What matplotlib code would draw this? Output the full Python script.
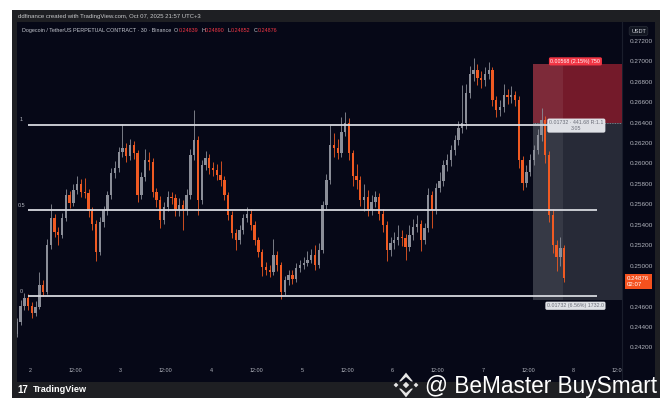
import numpy as np
import matplotlib
matplotlib.use("Agg")
import matplotlib.pyplot as plt
from matplotlib.patches import Rectangle, Polygon
import matplotlib.transforms as mtransforms

plt.rcParams['font.family'] = ['Liberation Sans', 'DejaVu Sans']

# ---------------- data ----------------
first_open = 0.2433
closes = [
    0.2445, 0.2461, 0.2468, 0.2461, 0.2454, 0.2460, 0.2481, 0.2474, 0.2520, 0.2547,
    0.2533, 0.2530, 0.2547, 0.2569, 0.2561, 0.2574, 0.2580, 0.2572, 0.2571, 0.2553,
    0.2541, 0.2513, 0.2543, 0.2554, 0.2569, 0.2591, 0.2596, 0.2611, 0.2615, 0.2607,
    0.2618, 0.2610, 0.2569, 0.2587, 0.2603, 0.2601, 0.2572, 0.2564, 0.2545, 0.2557,
    0.2567, 0.2566, 0.2554, 0.2559, 0.2554, 0.2569, 0.2608, 0.2623, 0.2564, 0.2598,
    0.2605, 0.2596, 0.2594, 0.2589, 0.2584, 0.2569, 0.2550, 0.2532, 0.2525, 0.2535,
    0.2547, 0.2551, 0.2540, 0.2525, 0.2513, 0.2499, 0.2496, 0.2494, 0.2510, 0.2501,
    0.2474, 0.2486, 0.2491, 0.2487, 0.2498, 0.2501, 0.2503, 0.2506, 0.2510, 0.2501,
    0.2515, 0.2559, 0.2584, 0.2618, 0.2615, 0.2610, 0.2631, 0.2640, 0.2610, 0.2588,
    0.2584, 0.2564, 0.2567, 0.2554, 0.2562, 0.2567, 0.2551, 0.2540, 0.2515, 0.2522,
    0.2525, 0.2528, 0.2527, 0.2518, 0.2530, 0.2538, 0.2541, 0.2525, 0.2537, 0.2569,
    0.2554, 0.2576, 0.2583, 0.2598, 0.2603, 0.2613, 0.2623, 0.2635, 0.2640, 0.2669,
    0.2687, 0.2691, 0.2684, 0.2682, 0.2687, 0.2691, 0.2662, 0.2652, 0.2655, 0.2667,
    0.2665, 0.2667, 0.2662, 0.2603, 0.2581, 0.2592, 0.2603, 0.2613, 0.2628, 0.2642,
    0.2608, 0.2550, 0.2520, 0.2508, 0.2517, 0.2488]
highs = [
    0.2449, 0.2466, 0.2473, 0.2472, 0.2464, 0.2465, 0.2494, 0.2486, 0.2526, 0.2560,
    0.2551, 0.2538, 0.2552, 0.2575, 0.2573, 0.2580, 0.2588, 0.2585, 0.2586, 0.2575,
    0.2557, 0.2545, 0.2548, 0.2558, 0.2573, 0.2596, 0.2602, 0.2616, 0.2639, 0.2620,
    0.2624, 0.2622, 0.2613, 0.2592, 0.2614, 0.2611, 0.2605, 0.2576, 0.2568, 0.2562,
    0.2573, 0.2572, 0.2570, 0.2566, 0.2564, 0.2575, 0.2614, 0.2652, 0.2627, 0.2603,
    0.2612, 0.2609, 0.2601, 0.2599, 0.2602, 0.2588, 0.2572, 0.2553, 0.2536, 0.2540,
    0.2551, 0.2557, 0.2555, 0.2544, 0.2528, 0.2516, 0.2504, 0.2501, 0.2526, 0.2514,
    0.2504, 0.2490, 0.2496, 0.2496, 0.2503, 0.2506, 0.2508, 0.2514, 0.2516, 0.2520,
    0.2522, 0.2563, 0.2590, 0.2638, 0.2630, 0.2624, 0.2645, 0.2650, 0.2644, 0.2613,
    0.2599, 0.2588, 0.2580, 0.2574, 0.2569, 0.2573, 0.2571, 0.2555, 0.2544, 0.2528,
    0.2533, 0.2540, 0.2535, 0.2531, 0.2540, 0.2546, 0.2550, 0.2545, 0.2542, 0.2576,
    0.2573, 0.2581, 0.2592, 0.2603, 0.2609, 0.2618, 0.2628, 0.2641, 0.2677, 0.2678,
    0.2695, 0.2703, 0.2697, 0.2690, 0.2694, 0.2699, 0.2694, 0.2666, 0.2662, 0.2678,
    0.2673, 0.2676, 0.2671, 0.2666, 0.2607, 0.2598, 0.2609, 0.2618, 0.2634, 0.2654,
    0.2646, 0.2612, 0.2555, 0.2525, 0.2528, 0.2520]
lows = [
    0.2430, 0.2442, 0.2457, 0.2457, 0.2449, 0.2451, 0.2458, 0.2470, 0.2472, 0.2516,
    0.2528, 0.2520, 0.2527, 0.2544, 0.2556, 0.2558, 0.2570, 0.2567, 0.2566, 0.2548,
    0.2535, 0.2505, 0.2510, 0.2538, 0.2550, 0.2565, 0.2586, 0.2592, 0.2606, 0.2601,
    0.2603, 0.2604, 0.2562, 0.2565, 0.2583, 0.2594, 0.2567, 0.2557, 0.2537, 0.2541,
    0.2553, 0.2560, 0.2549, 0.2549, 0.2535, 0.2550, 0.2565, 0.2603, 0.2550, 0.2560,
    0.2594, 0.2590, 0.2588, 0.2584, 0.2578, 0.2564, 0.2545, 0.2527, 0.2515, 0.2521,
    0.2531, 0.2543, 0.2535, 0.2520, 0.2508, 0.2490, 0.2491, 0.2489, 0.2491, 0.2495,
    0.2467, 0.2471, 0.2481, 0.2482, 0.2484, 0.2494, 0.2497, 0.2500, 0.2503, 0.2496,
    0.2498, 0.2512, 0.2555, 0.2580, 0.2606, 0.2604, 0.2606, 0.2627, 0.2603, 0.2578,
    0.2575, 0.2558, 0.2553, 0.2549, 0.2550, 0.2557, 0.2545, 0.2533, 0.2505, 0.2509,
    0.2516, 0.2520, 0.2519, 0.2506, 0.2514, 0.2525, 0.2533, 0.2514, 0.2521, 0.2533,
    0.2537, 0.2551, 0.2572, 0.2578, 0.2593, 0.2597, 0.2608, 0.2618, 0.2630, 0.2634,
    0.2664, 0.2681, 0.2677, 0.2674, 0.2676, 0.2683, 0.2656, 0.2645, 0.2646, 0.2650,
    0.2658, 0.2659, 0.2656, 0.2596, 0.2574, 0.2577, 0.2588, 0.2598, 0.2609, 0.2622,
    0.2600, 0.2543, 0.2512, 0.2495, 0.2500, 0.2484]

first_candle_day = 1 + 20.5 / 24     # day 2 = Oct 2 00:00 ; hourly candles
candle_hours = 1 / 24

fib_top, fib_bottom = 0.2638, 0.2470
fib_levels = [1, 0.5, 0]
fib_start_day, fib_end_day = 1.978, 8.258

entry_price, stop_price, target_price = 0.26400, 0.26968, 0.24668
pos_start_day, pos_now_day, pos_end_day = 7.552, 7.883, 8.56
last_price = 0.24876

price_ticks = [0.242, 0.244, 0.246, 0.248, 0.250, 0.252, 0.254, 0.256, 0.258,
               0.260, 0.262, 0.264, 0.266, 0.268, 0.270, 0.272]
hidden_tick = 0.248   # covered by the last-price label
time_ticks = [2, 2.5, 3, 3.5, 4, 4.5, 5, 5.5, 6, 6.5, 7, 7.5, 8, 8.5]
time_labels = ["2", "12:00", "3", "12:00", "4", "12:00", "5", "12:00",
               "6", "12:00", "7", "12:00", "8", "12:00"]
xlim = (1.8565, 8.534)
ylim = (0.24058, 0.27383)

header = "ddfinance created with TradingView.com, Oct 07, 2025 21:57 UTC+3"
symbol = "Dogecoin / TetherUS PERPETUAL CONTRACT · 30 · Binance"
ohlc_keys = ["O", "H", "L", "C"]
ohlc_vals = ["0.24839", "0.24890", "0.24852", "0.24876"]

# ---------------- colours ----------------
NAVY = "#060817"
FRAME = "#1e1f23"
UP = "#8b8e98"
DOWN = "#f05a22"
TXT = "#b2b5be"

W, H = 671, 412
fig = plt.figure(figsize=(W / 100, H / 100), dpi=100)
fig.patch.set_facecolor("white")

def rect_fig(x0, y0, x1, y1):
    return [x0 / W, 1 - y1 / H, (x1 - x0) / W, (y1 - y0) / H]

# background layer (pixel coordinates)
bg = fig.add_axes([0, 0, 1, 1], zorder=0)
bg.set_xlim(0, W); bg.set_ylim(H, 0); bg.axis("off")
bg.add_patch(Rectangle((12, 10), 648, 388, fc=FRAME, ec="none"))
bg.add_patch(Rectangle((17, 22), 638, 360, fc=NAVY, ec="none"))
bg.plot([622, 622], [22, 382], color="#1a1e2c", lw=0.8)
bg.text(18, 16, header, fontsize=4.3, color="#c9cacc", va="center", ha="left")
bg.text(638.5, 31, "USDT", fontsize=4.0, color="#d1d4dc", va="center", ha="center",
        bbox=dict(boxstyle="round,pad=0.35", fc="#131722", ec="#2a2e39", lw=0.5))

# main chart
ax = fig.add_axes(rect_fig(17, 22, 622, 362), zorder=2)
ax.set_facecolor("none")
ax.set_xlim(*xlim); ax.set_ylim(*ylim)
for s in ax.spines.values():
    s.set_visible(False)
ax.set_xticks([])
ax.yaxis.tick_right()
ax.set_yticks(price_ticks)
ax.set_yticklabels(["" if abs(p - hidden_tick) < 1e-9 else f"{p:.5f}" for p in price_ticks])
ax.tick_params(axis="y", length=0, pad=5.5, labelsize=4.6, labelcolor=TXT)

n = min(len(closes), len(highs), len(lows))
c = np.array(closes[:n])
o = np.concatenate([[first_open], c[:-1]])
hi = np.maximum(np.array(highs[:n]), np.maximum(o, c))
lo = np.minimum(np.array(lows[:n]), np.minimum(o, c))
t = first_candle_day + np.arange(n) * candle_hours
cols = np.where(c >= o, UP, DOWN)

# position tool (short)
ax.add_patch(Rectangle((pos_start_day, entry_price), pos_end_day - pos_start_day,
                       stop_price - entry_price, fc="#741a2a", ec="none", zorder=1))
ax.add_patch(Rectangle((pos_start_day, target_price), pos_end_day - pos_start_day,
                       entry_price - target_price, fc="#272a37", ec="none", zorder=1))
ax.add_patch(Rectangle((pos_start_day, target_price), pos_now_day - pos_start_day,
                       stop_price - target_price, fc="white", alpha=0.07, ec="none", zorder=1.5))
ax.hlines(entry_price, pos_start_day, pos_end_day, color="#9598a1", lw=0.6,
          linestyles=(0, (1, 1)), zorder=1.6)

ax.vlines(t, lo, hi, colors=cols, lw=0.6, zorder=3)
body = np.where(np.abs(c - o) < 0.00005, 0.00005, c - o)
ax.bar(t, body, bottom=o, width=0.62 * candle_hours, color=cols, lw=0, zorder=3.5)

# fib retracement
for lvl in fib_levels:
    price = fib_bottom + lvl * (fib_top - fib_bottom)
    ax.hlines(price, fib_start_day, fib_end_day, color="#d6d8de", lw=1.3, zorder=4)
    ax.text(1.905, price + 0.00025, f"{lvl:g}", fontsize=4.0, color=TXT,
            ha="center", va="bottom", zorder=4)

# position labels
ax.text(8.02, stop_price + 0.0003, "0.00568 (2.15%) 750", fontsize=3.8, color="white",
        ha="center", va="center", zorder=6,
        bbox=dict(boxstyle="round,pad=0.3", fc="#f23645", ec="none"))
ax.text(8.03, entry_price - 0.0003, "0.01732 · 441.68 R:1.1\n3.05", fontsize=3.8,
        color="#6a6d78", ha="center", va="center", linespacing=1.1, zorder=6,
        bbox=dict(boxstyle="round,pad=0.35", fc="#dfe1e6", ec="none"))
ax.text(8.02, target_price - 0.0006, "0.01732 (6.56%) 1732.0", fontsize=3.8,
        color="#6a6d78", ha="center", va="center", zorder=6,
        bbox=dict(boxstyle="round,pad=0.3", fc="#dfe1e6", ec="none"))

# last price label on price axis
trans = mtransforms.blended_transform_factory(ax.transAxes, ax.transData)
ax.text(1.0085, last_price - 0.0003, "0.24876\n02:07", transform=trans, fontsize=4.4,
        color="white", ha="left", va="center", linespacing=1.15, zorder=7, clip_on=False,
        bbox=dict(boxstyle="square,pad=0.35", fc="#f4511e", ec="none"))

# time axis
axt = fig.add_axes(rect_fig(17, 362, 622, 381), zorder=2)
axt.set_facecolor("none")
axt.set_xlim(*xlim); axt.set_ylim(0, 1); axt.axis("off")
for tk, lb in zip(time_ticks, time_labels):
    axt.text(tk, 0.55, lb, fontsize=3.9, color=TXT, ha="center", va="center", clip_on=True)

# top overlay: symbol line, logos, watermark
top = fig.add_axes([0, 0, 1, 1], zorder=10)
top.set_xlim(0, W); top.set_ylim(H, 0); top.axis("off")
fig.canvas.draw()
r = fig.canvas.get_renderer()
inv = top.transData.inverted()

def chain(x, y, s, color, size):
    tx = top.text(x, y, s, fontsize=size, color=color, ha="left", va="center")
    bb = tx.get_window_extent(renderer=r)
    return inv.transform((bb.x1, bb.y0))[0]

x = chain(22, 30, symbol, "#c3c6ce", 3.9)
x += 3
for k, v in zip(ohlc_keys, ohlc_vals):
    x = chain(x, 30, k, "#c3c6ce", 3.9)
    x = chain(x, 30, v, "#f23645", 3.9) + 3

# TradingView logo
top.text(17, 390, "17", fontsize=7, fontweight="bold", color="white", ha="left", va="center")
top.text(33, 390, "TradingView", fontsize=6.6, fontweight="bold", color="white",
         ha="left", va="center")

# Binance-like logo
cx, cy = 406, 385
def diamond(x0, y0, rr, **kw):
    top.add_patch(Polygon([(x0, y0 - rr), (x0 + rr, y0), (x0, y0 + rr), (x0 - rr, y0)],
                          closed=True, **kw))
diamond(cx, cy, 3.2, fc="#e6e6e6", ec="none")
for dy in (-8, 8):
    top.add_patch(Polygon([(cx - 7, cy + dy * 0.45), (cx, cy + dy * 1.55),
                           (cx + 7, cy + dy * 0.45), (cx + 5, cy + dy * 0.45),
                           (cx, cy + dy * 1.0), (cx - 5, cy + dy * 0.45)],
                          closed=True, fc="#e6e6e6", ec="none"))
diamond(cx - 10, cy, 2.4, fc="#e6e6e6", ec="none")
diamond(cx + 10, cy, 2.4, fc="#e6e6e6", ec="none")

top.text(425, 386, "@ BeMaster BuySmart", fontsize=16.3, color="white",
         ha="left", va="center", clip_on=False)

fig.savefig("out.png", dpi=100, facecolor=fig.get_facecolor())
